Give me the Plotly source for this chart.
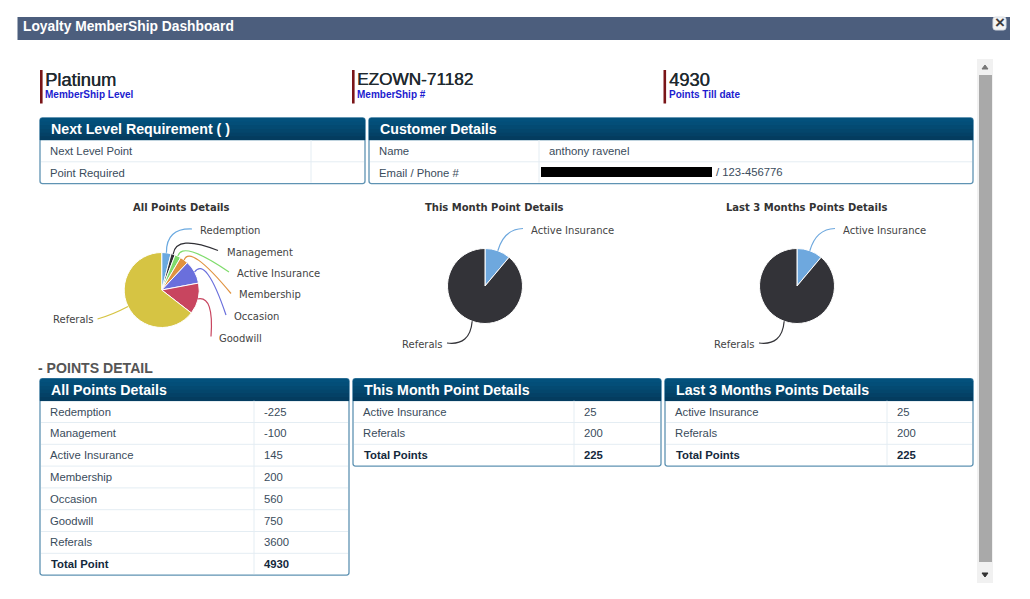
import math
import plotly.graph_objects as go

W = 1030
H = 599

# values
all_labels = ["Redemption", "Management", "Active Insurance", "Membership", "Occasion", "Goodwill", "Referals"]
all_values = [-225, -100, 145, 200, 560, 750, 3600]
all_total = 4930
all_colors = ["#6aa9e0", "#2f2f35", "#7fdc6c", "#e0923f", "#6a6fdc", "#c8455f", "#d6c443"]

month_labels = ["Active Insurance", "Referals"]
month_values = [25, 200]
month_total = 225
last3_labels = ["Active Insurance", "Referals"]
last3_values = [25, 200]
last3_total = 225
small_colors = ["#6ea8de", "#333338"]

next_labels = ["Next Level Point", "Point Required"]
next_values = ["", ""]
customer_labels = ["Name", "Email / Phone #"]
customer_values = ["anthony ravenel", ""]
phone_text = "/ 123-456776"

kpi_values = ["Platinum", "EZOWN-71182", "4930"]
kpi_labels = ["MemberShip Level", "MemberShip #", "Points Till date"]
kpi_sizes = [18.3, 17.2, 18.3]

TEXT = "#3a4c5c"
ARIAL = "Liberation Sans"
CHART_FONT = "DejaVu Sans"

shapes = []
notes = []


def X(px):
    return px / W


def Y(py):
    return 1 - py / H


def rect(x0, y0, x1, y1, color):
    shapes.append(dict(type="rect", xref="paper", yref="paper", x0=X(x0), y0=Y(y0), x1=X(x1), y1=Y(y1),
                       fillcolor=color, line=dict(width=0)))


def line(x0, y0, x1, y1, color, width=1):
    shapes.append(dict(type="line", xref="paper", yref="paper", x0=X(x0), y0=Y(y0), x1=X(x1), y1=Y(y1),
                       line=dict(color=color, width=width)))


def path(d, color, fill=None, width=1):
    shapes.append(dict(type="path", xref="paper", yref="paper", path=d, fillcolor=fill or "rgba(0,0,0,0)",
                       line=dict(color=color, width=width)))


def text(x, y, s, size, color=TEXT, bold=False, anchor="left", family=ARIAL, shadow=None):
    # annotations sit about a pixel inside their anchor
    if anchor == "left":
        x -= 1.3
    font = dict(family=family, size=size, color=color)
    if shadow:
        font["shadow"] = shadow
    notes.append(dict(xref="paper", yref="paper", x=X(x), y=Y(y), text="<b>%s</b>" % s if bold else s,
                      showarrow=False, xanchor=anchor, yanchor="middle", borderpad=0, font=font))


def rounded(x0, y0, x1, y1, r=2.5, bottom=True):
    d = "M %f %f L %f %f Q %f %f %f %f " % (X(x0), Y(y0 + r), X(x0), Y(y0 + r), X(x0), Y(y0), X(x0 + r), Y(y0))
    d += "L %f %f Q %f %f %f %f " % (X(x1 - r), Y(y0), X(x1), Y(y0), X(x1), Y(y0 + r))
    if bottom:
        d += "L %f %f Q %f %f %f %f " % (X(x1), Y(y1 - r), X(x1), Y(y1), X(x1 - r), Y(y1))
        d += "L %f %f Q %f %f %f %f Z" % (X(x0 + r), Y(y1), X(x0), Y(y1), X(x0), Y(y1 - r))
    else:
        d += "L %f %f L %f %f Z" % (X(x1), Y(y1), X(x0), Y(y1))
    return d


def panel(x0, x1, y0, col_x, title, labels, values, total_label=None, total=None):
    header_h = 22
    row_h = 21.8
    n = len(labels) + (1 if total_label else 0)
    y1 = y0 + header_h + n * row_h
    path(rounded(x0, y0, x1, y1), "#5f93b3", fill="#ffffff", width=1.3)

    # header gradient: each band runs to the bottom of the header so no seams show
    bands = ["#03517c", "#034e78", "#034a72", "#04466c", "#044166", "#043c5f"]
    band_h = header_h / len(bands)
    path(rounded(x0, y0, x1, y0 + header_h, bottom=False), bands[0], fill=bands[0], width=0.5)
    for i in range(1, len(bands)):
        rect(x0, y0 + i * band_h, x1, y0 + header_h, bands[i])
    text(x0 + 11, y0 + 11, title, 14.2, color="#ffffff", bold=True)

    line(col_x, y0 + header_h, col_x, y1 - 1, "#e4edf3")
    for i in range(n):
        cy = y0 + header_h + (i + 0.5) * row_h
        if i > 0:
            line(x0 + 1, y0 + header_h + i * row_h, x1 - 1, y0 + header_h + i * row_h, "#e4edf3")
        if i < len(labels):
            text(x0 + 10.5, cy, labels[i], 11.3)
            text(col_x + 10, cy, str(values[i]), 11.3)
        else:
            text(x0 + 11, cy, total_label, 11.3, color="#14283c", bold=True)
            text(col_x + 10, cy, str(total), 11.3, color="#14283c", bold=True)


def pie_edge(values, idx, cx, cy, r):
    # point on the rim in the middle of slice idx (clockwise from 12 o'clock)
    sizes = [abs(v) for v in values]
    angle = 2 * math.pi * (sum(sizes[:idx]) + sizes[idx] / 2) / sum(sizes)
    return cx + r * math.sin(angle), cy - r * math.cos(angle)


def leader(values, idx, cx, cy, r, ctrl, end, color):
    sx, sy = pie_edge(values, idx, cx, cy, r)
    d = "M %f %f Q %f %f %f %f" % (X(sx), Y(sy), X(ctrl[0]), Y(ctrl[1]), X(end[0]), Y(end[1]))
    path(d, color, width=1.2)


def pie_trace(labels, values, colors, cx, cy, r):
    return go.Pie(labels=labels, values=[abs(v) for v in values], sort=False, direction="clockwise", rotation=0,
                  textinfo="none", hoverinfo="label+value", marker=dict(colors=colors, line=dict(color="#ffffff", width=1)),
                  domain=dict(x=[X(cx - r), X(cx + r)], y=[Y(cy + r), Y(cy - r)]))


# title bar
rect(17.5, 17, 1010, 40, "#4c5e7d")
text(23, 26, "Loyalty MemberShip Dashboard", 13.8, color="#ffffff", bold=True)
path(rounded(993, 17, 1006, 30), "#d8dde4", fill="#f4f4f4")
text(999.5, 23, "×", 17, color="#3c3c3c", bold=True, anchor="center")

# scrollbar
rect(977, 59, 993, 583, "#f1f1f1")
rect(979, 75, 992, 562, "#a9a9a9")
path("M %f %f L %f %f L %f %f Z" % (X(985), Y(65), X(982), Y(69), X(988), Y(69)), "#777777", fill="#777777")
path("M %f %f L %f %f L %f %f Z" % (X(982), Y(573), X(988), Y(573), X(985), Y(577)), "#333333", fill="#333333")

# membership figures
kpi_x = [40, 352, 663.5]
for i in range(3):
    rect(kpi_x[i], 70, kpi_x[i] + 2.6, 103.5, "#7a1518")
    text(kpi_x[i] + 5.5, 79, kpi_values[i], kpi_sizes[i], color="#20292f", shadow="0.4px 0 0 #20292f")
    text(kpi_x[i] + 5.5, 94, kpi_labels[i], 10, color="#1c1ccf", bold=True)

# upper tables
panel(40, 365, 118, 311, "Next Level Requirement ( )", next_labels, next_values)
panel(369, 973, 118, 539, "Customer Details", customer_labels, customer_values)
rect(541, 167, 712, 177, "#000000")
text(716, 172.5, phone_text, 11.3)

# pie titles
text(181.5, 207.5, "All Points Details", 10, color="#333333", bold=True, anchor="center", family=CHART_FONT)
text(494, 207.5, "This Month Point Details", 10, color="#333333", bold=True, anchor="center", family=CHART_FONT)
text(806, 207.5, "Last 3 Months Points Details", 10, color="#333333", bold=True, anchor="center", family=CHART_FONT)

# pie leader lines and labels
A = (161.7, 290, 37.5)
B = (485, 286, 37.5)
C = (797, 286, 37.5)

all_ctrl = [(166, 228), (176, 234), (182, 240), (190, 244), (206, 256), (214, 296), (112, 315)]
all_end = [(192, 229), (218, 250.5), (229, 272), (231, 293.5), (226, 315), (211, 336.5), (97.5, 319)]
all_text = [(200, 230), (227, 252), (237.5, 274), (239.5, 294), (234.5, 316), (219.5, 338)]
for i in range(7):
    leader(all_values, i, A[0], A[1], A[2], all_ctrl[i], all_end[i], all_colors[i])
    if i < 6:
        text(all_text[i][0], all_text[i][1], all_labels[i], 10, color="#444444", family=CHART_FONT)
text(94.5, 319.5, "Referals", 10, color="#444444", anchor="right", family=CHART_FONT)

for c, labels, values in [(B, month_labels, month_values), (C, last3_labels, last3_values)]:
    off = c[0] - B[0]
    leader(values, 0, c[0], c[1], c[2], (504 + off, 229), (523 + off, 228.5), small_colors[0])
    leader(values, 1, c[0], c[1], c[2], (470 + off, 346), (447 + off, 343), small_colors[1])
    text(531 + off, 230, labels[0], 10, color="#444444", family=CHART_FONT)
    text(444 + off, 344, labels[1], 10, color="#444444", anchor="right", family=CHART_FONT)

# lower tables
text(38, 368, "- POINTS DETAIL", 14.1, color="#555555", bold=True)
panel(40, 349, 378.7, 254, "All Points Details", all_labels, all_values, "Total Point", all_total)
panel(353, 661, 378.7, 574, "This Month Point Details", month_labels, month_values, "Total Points", month_total)
panel(665, 973, 378.7, 887, "Last 3 Months Points Details", last3_labels, last3_values, "Total Points", last3_total)

fig = go.Figure()
fig.add_trace(pie_trace(all_labels, all_values, all_colors, *A))
fig.add_trace(pie_trace(month_labels, month_values, small_colors, *B))
fig.add_trace(pie_trace(last3_labels, last3_values, small_colors, *C))

fig.update_layout(width=W, height=H, margin=dict(l=0, r=0, t=0, b=0), showlegend=False,
                  paper_bgcolor="#ffffff", plot_bgcolor="#ffffff", shapes=shapes, annotations=notes)

fig.write_html("out.html", config=dict(displayModeBar=False),
               post_script="document.body.style.margin='0';document.body.style.overflow='hidden';")
